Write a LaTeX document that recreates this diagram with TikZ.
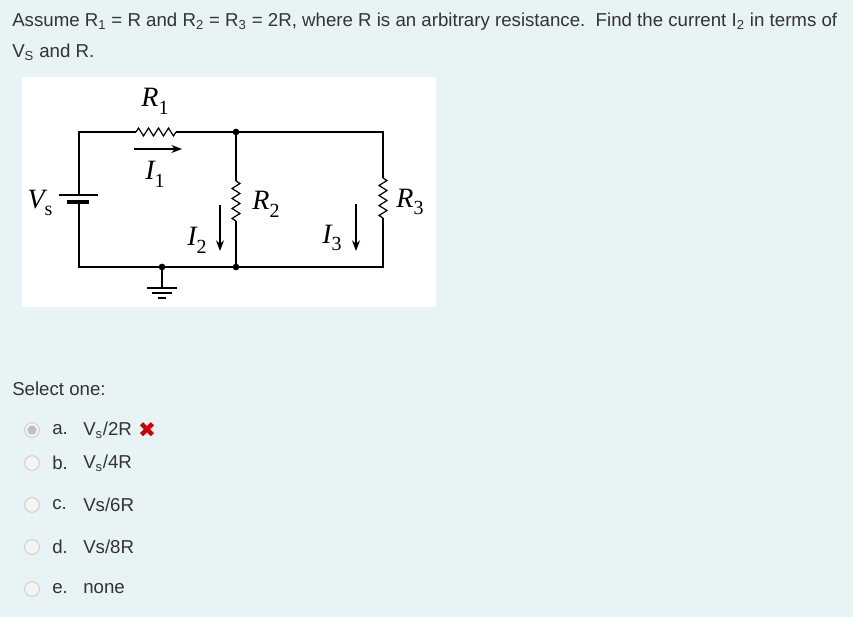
\documentclass[tikz,border=0pt]{standalone}
\usepackage{fontspec}
\setmainfont{Liberation Sans}
\newfontfamily\serif{Liberation Serif}
\newfontfamily\dejavu{DejaVu Sans}
\usetikzlibrary{decorations.pathmorphing,arrows.meta}
\definecolor{bg}{HTML}{E7F3F5}
\definecolor{txt}{HTML}{333333}
\tikzset{
  qtext/.style={anchor=west,inner sep=0pt,text=txt,font=\fontsize{14pt}{16pt}\selectfont},
  lab/.style={inner sep=0pt,font=\serif\itshape\fontsize{21pt}{21pt}\selectfont},
  wire/.style={line width=0.9pt},
  res/.style={wire,decorate,decoration={zigzag,segment length=7.5pt,amplitude=3pt}},
  cur/.style={line width=1pt,-{Stealth[length=8pt,width=6pt]}},
  dot/.style={circle,fill,inner sep=0pt,minimum size=5pt},
  radio/.style={circle,draw=black!20,fill=black!4,line width=0.7pt,minimum size=11pt,inner sep=0pt}
}
\newcommand{\lsub}[1]{\raisebox{-0.6ex}{\upshape\fontsize{15pt}{15pt}\selectfont #1}}
\begin{document}
\begin{tikzpicture}[x=0.75pt,y=-0.75pt]
\fill[bg] (0,0) rectangle (853,617);
\useasboundingbox (0,0) rectangle (853,617);
\node[qtext] (t1) at (12,22) {Assume R\textsubscript{1} = R and R\textsubscript{2} = R\textsubscript{3} = 2R, where R is an arbitrary resistance.\ \ Find the current I\textsubscript{2} in terms of};
\node[qtext] (t2) at (12,52) {V\textsubscript{S} and R.};
\fill[white] (22,77) rectangle (436,307);
\coordinate (tl) at (79,132); \coordinate (bl) at (79,267);
\coordinate (jt) at (236,132); \coordinate (jb) at (236,267);
\coordinate (tr) at (383,132); \coordinate (br) at (383,267);
\coordinate (r1a) at (136,132); \coordinate (r1b) at (176,132);
\coordinate (r2a) at (236,181); \coordinate (r2b) at (236,221);
\coordinate (r3a) at (383,178); \coordinate (r3b) at (383,218);
\coordinate (ba) at (79,195); \coordinate (bb) at (79,202);
\coordinate (g) at (162,267); \coordinate (g1) at (162,288);
\draw[wire] (ba) -- (tl) -- (r1a);
\draw[res] (r1a) -- (r1b);
\draw[wire] (r1b) -- (jt) -- (tr) -- (r3a);
\draw[res] (r3a) -- (r3b);
\draw[wire] (r3b) -- (br) -- (jb) -- (bl) -- (bb);
\draw[wire] (jt) -- (r2a); \draw[res] (r2a) -- (r2b); \draw[wire] (r2b) -- (jb);
\draw[line width=0.8pt] (59,195) -- (98,195);
\draw[line width=3pt] (67,202) -- (89,202);
\draw[wire] (g) -- (g1);
\draw[line width=0.8pt] (147,288) -- (177,288) (152,293) -- (172,293) (158,298) -- (166,298);
\node[dot] (d1) at (jt) {}; \node[dot] (d2) at (jb) {}; \node[dot] (d3) at (g) {};
\coordinate (i1a) at (134,149); \coordinate (i1b) at (182,149);
\coordinate (i2a) at (220,205); \coordinate (i2b) at (220,251);
\coordinate (i3a) at (356,204); \coordinate (i3b) at (356,251);
\draw[cur] (i1a) -- (i1b); \draw[cur] (i2a) -- (i2b); \draw[cur] (i3a) -- (i3b);
\node[lab] (lr1) at (155,101) {R\lsub{1}};
\node[lab] (li1) at (155,174) {I\lsub{1}};
\node[lab] (lvs) at (40,203) {V\lsub{s}};
\node[lab] (lr2) at (266,204) {R\lsub{2}};
\node[lab] (li2) at (197,240) {I\lsub{2}};
\node[lab] (lr3) at (410,202) {R\lsub{3}};
\node[lab] (li3) at (332,238) {I\lsub{3}};
\node[qtext] (sel) at (12,389) {Select one:};
\foreach \y/\l/\a [count=\i] in {430/{a.}/{V\textsubscript{s}/2R},463/{b.}/{V\textsubscript{s}/4R},505/{c.}/{Vs/6R},547/{d.}/{Vs/8R},589/{e.}/{none}}{
  \node[radio] (rb\i) at (32,\y) {};
  \node[qtext] (ol\i) at (52,\y) {\l};
  \node[qtext] (oa\i) at (83,\y) {\a};
}
\fill[black!25] (rb1) circle (3.5pt);
\node[text=red!80!black,font=\dejavu\fontsize{16pt}{16pt}\selectfont,inner sep=0pt] (x) at (147,430) {✖};
\end{tikzpicture}
\end{document}
